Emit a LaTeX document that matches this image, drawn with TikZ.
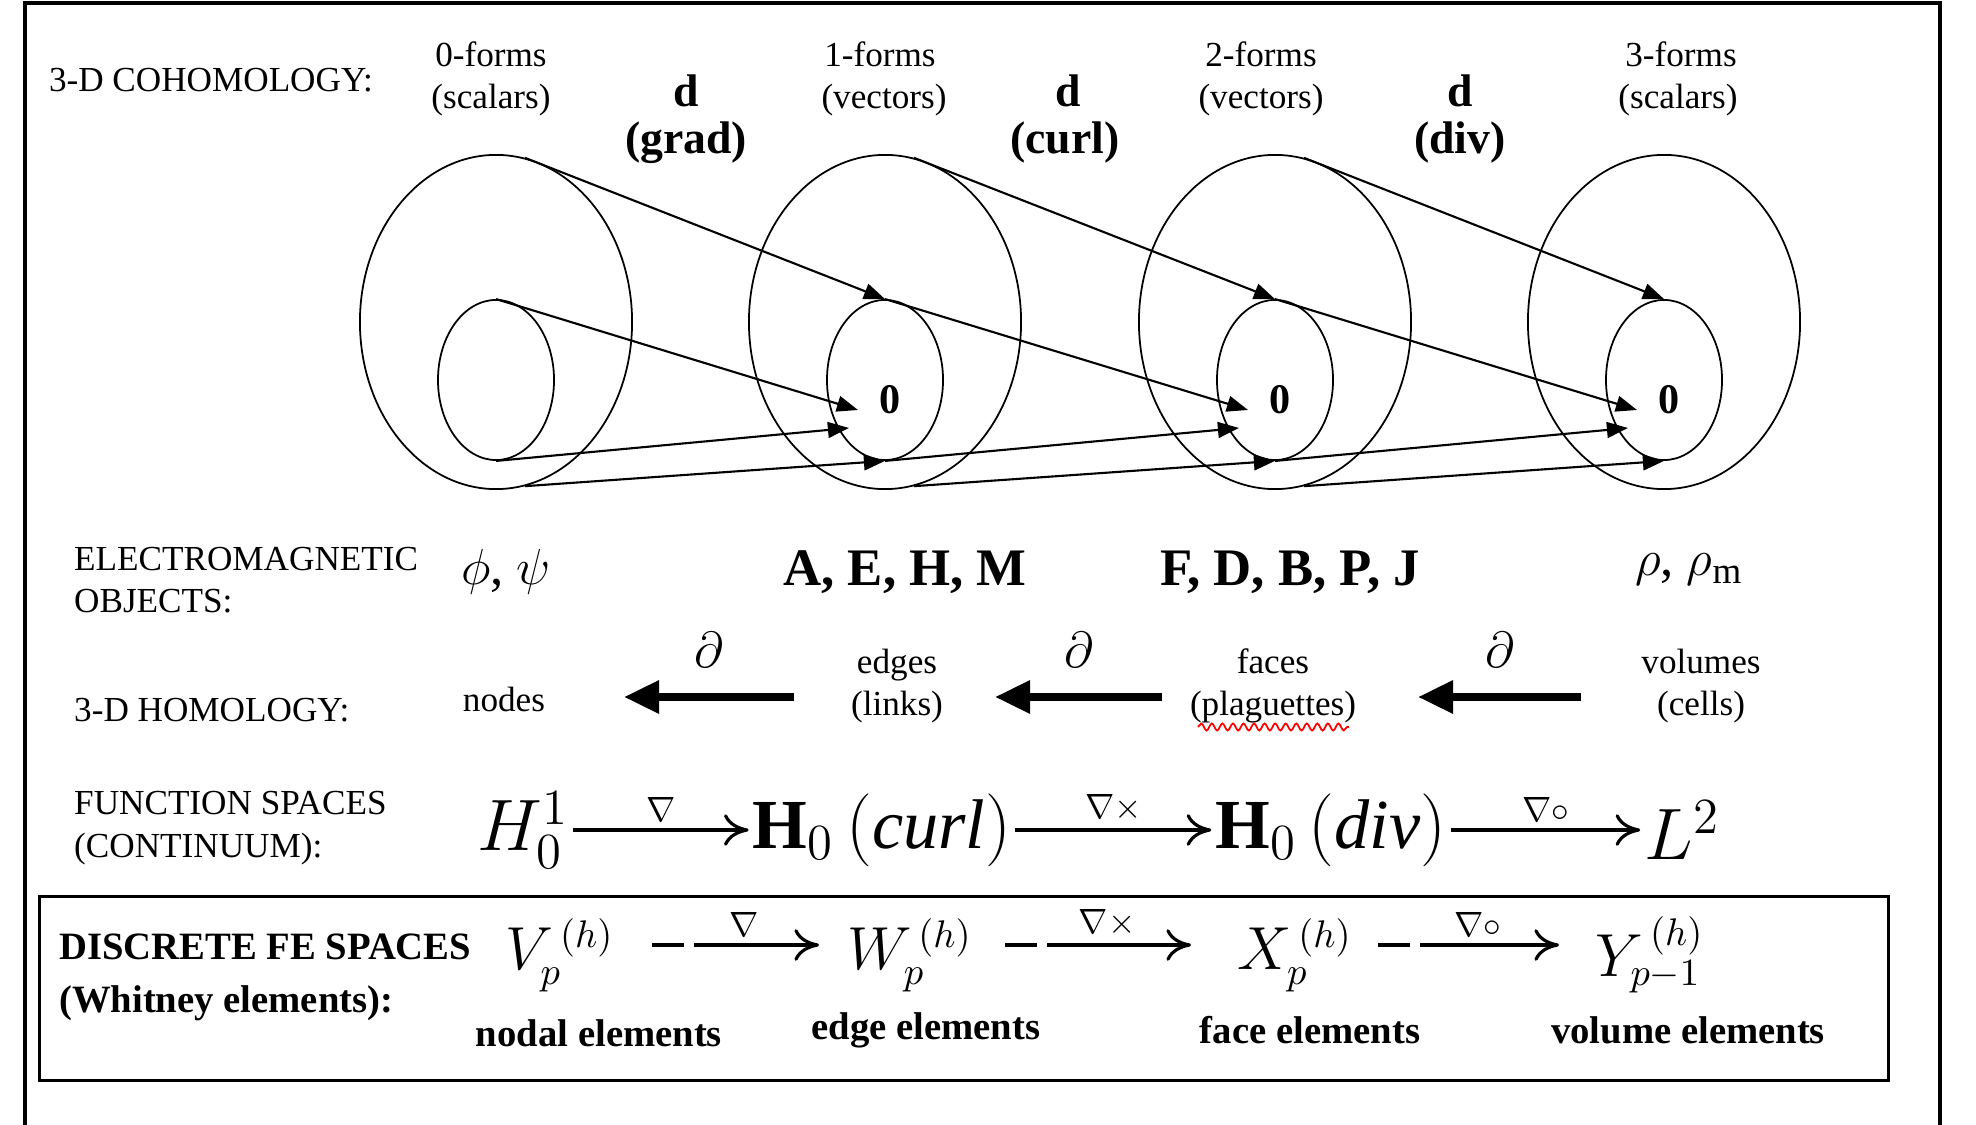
\documentclass[tikz,border=0pt]{standalone}
\usepackage{fontspec}
\setmainfont{Liberation Serif}
\usetikzlibrary{shapes.geometric,arrows.meta,decorations.pathmorphing}
\tikzset{
  big/.style={draw,ellipse,inner sep=0pt,minimum width=2.72cm,minimum height=3.34cm,line width=0.5pt},
  inn/.style={draw,ellipse,inner sep=0pt,minimum width=1.16cm,minimum height=1.6cm,line width=0.5pt},
  thin/.style={line width=0.6pt,-{Triangle[length=6pt,width=4.5pt]}},
  homarr/.style={line width=2.2pt,-{Triangle[length=10pt,width=9pt]}},
  lbl/.style={font=\fontsize{10}{12}\selectfont,inner sep=1pt,align=center},
  lblb/.style={font=\fontsize{11}{13}\selectfont\bfseries,inner sep=1pt,align=center},
  frm/.style={font=\fontsize{20}{24}\selectfont,inner sep=1pt},
  frms/.style={font=\fontsize{16}{19}\selectfont,inner sep=1pt},
  fsm/.style={font=\fontsize{10}{12}\selectfont,inner sep=1pt},
  farr/.style={line width=0.9pt,-{To[length=7pt,width=9pt]}},
  darr/.style={line width=0.9pt,dash pattern=on 9pt off 3pt on 100pt,-{To[length=7pt,width=9pt]}}
}
\begin{document}
\begin{tikzpicture}[x=0.01cm,y=-0.01cm]
\useasboundingbox (0,0) rectangle (1976,1125);
\draw[line width=1.3pt] (25,1130) -- (25,3) -- (1940,3) -- (1940,1130);
% ellipses
\foreach \i/\c in {1/496,2/885,3/1275,4/1664}{
  \node[big] (b\i) at (\c,322) {};
  \node[inn] (n\i) at (\c,380) {};
  \coordinate (za\i) at (\c-27,410);
  \coordinate (zb\i) at (\c-36,428);
}
\foreach \i in {2,3,4}{
  \node[font=\fontsize{12}{14}\selectfont\bfseries,inner sep=0pt] (zero\i) at ([xshift=0.05cm,yshift=-0.2cm]n\i.center) {0};
}
\foreach \i/\j in {1/2,2/3,3/4}{
  \draw[thin] (b\i.80) -- (n\j.north);
  \draw[thin] (n\i.north) -- (za\j);
  \draw[thin] (n\i.south) -- (zb\j);
  \draw[thin] (b\i.-80) -- (n\j.south);
}
% top labels
\node[lbl] (coh) at (211,80) {3-D COHOMOLOGY:};
\node[lbl] (f0) at (491,54) {0-forms};
\node[lbl] (f0b) at (491,100) {(scalars)};
\node[lbl] (f1) at (880,54) {1-forms};
\node[lbl] (f1b) at (884,100) {(vectors)};
\node[lbl] (f2) at (1261,54) {2-forms};
\node[lbl] (f2b) at (1261,100) {(vectors)};
\node[lbl] (f3) at (1681,54) {3-forms};
\node[lbl] (f3b) at (1678,100) {(scalars)};
\node[lblb,font=\fontsize{13}{15}\selectfont\bfseries] (d1) at (686,91) {d};
\node[lblb,font=\fontsize{13}{15}\selectfont\bfseries] (d1b) at (686,143) {(grad)};
\node[lblb,font=\fontsize{13}{15}\selectfont\bfseries] (d2) at (1068,91) {d};
\node[lblb,font=\fontsize{13}{15}\selectfont\bfseries] (d2b) at (1065,143) {(curl)};
\node[lblb,font=\fontsize{13}{15}\selectfont\bfseries] (d3) at (1460,91) {d};
\node[lblb,font=\fontsize{13}{15}\selectfont\bfseries] (d3b) at (1460,143) {(div)};
% EM objects
\node[lbl,anchor=west,align=left] (em) at (70,580) {ELECTROMAGNETIC\\OBJECTS:};
\node[font=\fontsize{15}{17}\selectfont] (o1) at (506,572) {$\phi$, $\psi$};
\node[font=\fontsize{15}{17}\selectfont\bfseries] (o2) at (905,572) {A, E, H, M};
\node[font=\fontsize{15}{17}\selectfont\bfseries] (o3) at (1290,572) {F, D, B, P, J};
\node[font=\fontsize{15}{17}\selectfont] (o4) at (1689,570) {$\rho$, $\rho_{\mathrm{m}}$};
% homology
\node[lbl,anchor=west] (hom) at (70,710) {3-D HOMOLOGY:};
\node[lbl] (nodes) at (504,699) {nodes};
\node[lbl] (edges) at (897,686) {edges\\(links)};
\node[lbl] (faces) at (1273,686) {faces\\(plaguettes)};
\node[lbl] (vols) at (1701,686) {volumes\\(cells)};
\draw[red,line width=0.5pt,decorate,decoration={snake,amplitude=1pt,segment length=3pt}] (1198,727) -- (1349,727);
\coordinate (h1s) at (794,697); \coordinate (h1e) at (624,697);
\coordinate (h2s) at (1162,697); \coordinate (h2e) at (995,697);
\coordinate (h3s) at (1581,697); \coordinate (h3e) at (1418,697);
\draw[homarr] (h1s) -- (h1e) node[midway,above=4pt,font=\fontsize{15}{17}\selectfont] {$\partial$};
\draw[homarr] (h2s) -- (h2e) node[midway,above=4pt,font=\fontsize{15}{17}\selectfont] {$\partial$};
\draw[homarr] (h3s) -- (h3e) node[midway,above=4pt,font=\fontsize{15}{17}\selectfont] {$\partial$};
% function spaces
\node[lbl,anchor=west,align=left] (fs) at (70,828) {FUNCTION SPACES\\(CONTINUUM):};
\node[frm] (H1) at (523,830) {$H^1_0$};
\node[frm] (Hc) at (882,830) {$\mathbf{H}_0\left(\mathit{curl}\right)$};
\node[frm] (Hd) at (1331,830) {$\mathbf{H}_0\left(\mathit{div}\right)$};
\node[frm] (L2) at (1682,830) {$L^2$};
\draw[farr] (H1.east) -- (Hc.west) node[midway,above=1pt,fsm] {$\nabla$};
\draw[farr] (Hc.east) -- (Hd.west) node[midway,above=1pt,fsm] {$\nabla\times$};
\draw[farr] (Hd.east) -- (L2.west) node[midway,above=1pt,fsm] {$\nabla\circ$};
% discrete box
\node[draw,line width=0.8pt,minimum width=18.48cm,minimum height=1.84cm,anchor=north west,inner sep=0pt] (box) at (38,895) {};
\node[lblb,anchor=west,align=left,font=\fontsize{11}{15}\selectfont\bfseries] (dfe) at (55,977) {DISCRETE FE SPACES\\(Whitney elements):};
\node[frms] (V) at (560,955) {$V_p^{\,(h)}$};
\node[frms] (W) at (910,955) {$W_p^{\,(h)}$};
\node[frms] (X) at (1295,955) {$X_p^{\,(h)}$};
\node[frms] (Y) at (1650,955) {$Y_{p-1}^{\,(h)}$};
\draw[darr] (652,945) -- (819,945) node[pos=0.55,above=1pt,fsm] {$\nabla$};
\draw[darr] (1005,945) -- (1191,945) node[pos=0.55,above=1pt,fsm] {$\nabla\times$};
\draw[darr] (1378,945) -- (1559,945) node[pos=0.55,above=1pt,fsm] {$\nabla\circ$};
\node[lblb] (e1) at (599,1033) {nodal elements};
\node[lblb] (e2) at (926,1030) {edge elements};
\node[lblb] (e3) at (1310,1030) {face elements};
\node[lblb] (e4) at (1688,1030) {volume elements};
\end{tikzpicture}
\end{document}
